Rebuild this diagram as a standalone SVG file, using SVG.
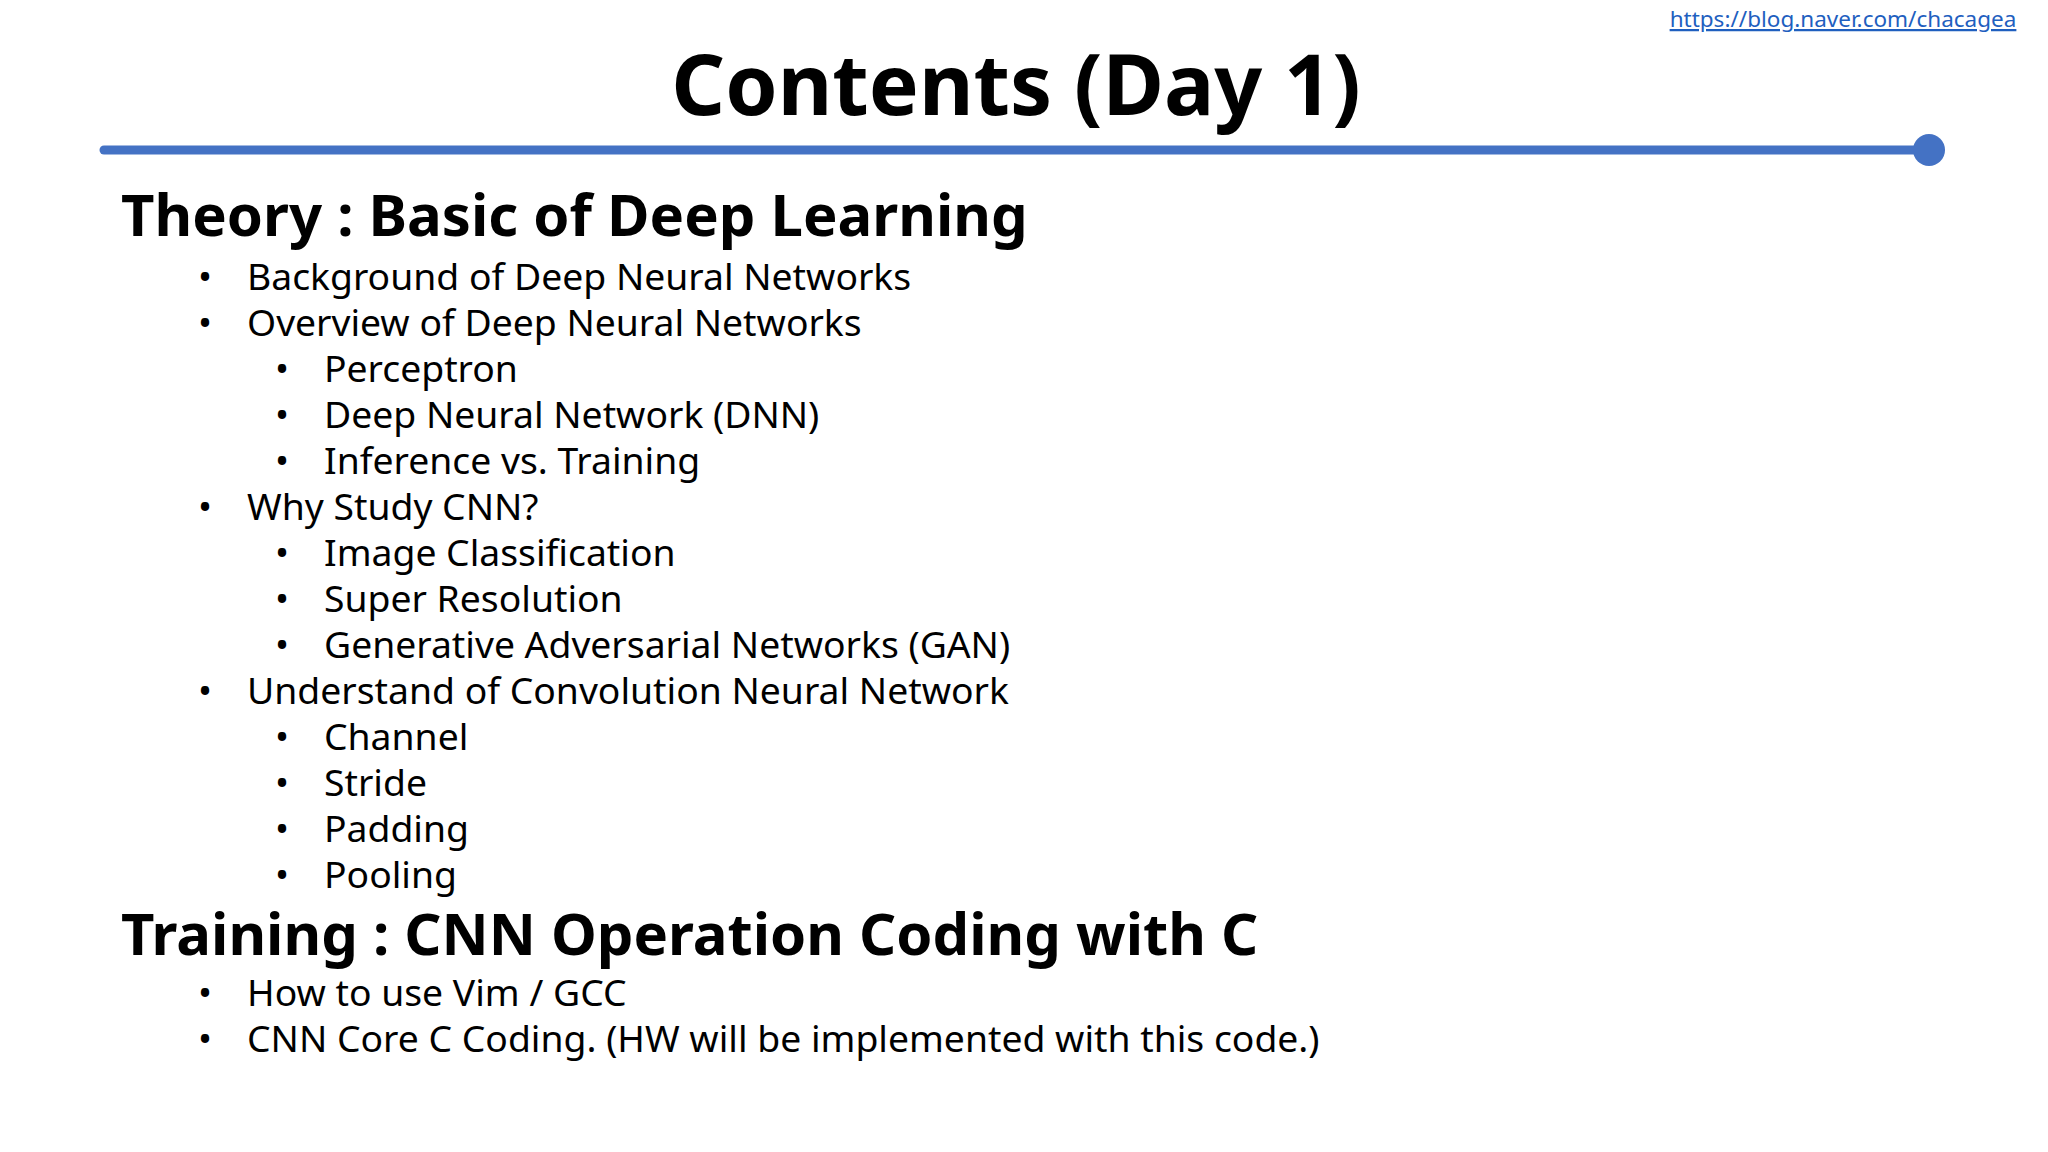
<svg xmlns="http://www.w3.org/2000/svg" width="2048" height="1152" viewBox="0 0 2048 1152">
<style>
.t{font-family:"Noto Sans","Liberation Sans",sans-serif;fill:#000}
.h{font-size:58px;font-weight:bold}
.b{font-size:37.3px}
</style>
<rect width="2048" height="1152" fill="#fff"/>
<text x="1843" y="27" text-anchor="middle" font-family="Noto Sans,sans-serif" font-size="22.5" fill="#1f5fbf" text-decoration="underline">https://blog.naver.com/chacagea</text>
<text class="t" x="1016" y="115" text-anchor="middle" font-size="84" font-weight="bold">Contents (Day 1)</text>
<line x1="104" y1="150" x2="1929" y2="150" stroke="#4472C4" stroke-width="9" stroke-linecap="round"/>
<circle cx="1929" cy="150" r="16" fill="#4472C4"/>
<text class="t h" x="121" y="236">Theory : Basic of Deep Learning</text>
<g class="t b">
<text x="198" y="290">•</text><text x="247" y="290">Background of Deep Neural Networks</text>
<text x="198" y="336">•</text><text x="247" y="336">Overview of Deep Neural Networks</text>
<text x="275" y="382">•</text><text x="324" y="382">Perceptron</text>
<text x="275" y="428">•</text><text x="324" y="428">Deep Neural Network (DNN)</text>
<text x="275" y="474">•</text><text x="324" y="474">Inference vs. Training</text>
<text x="198" y="520">•</text><text x="247" y="520">Why Study CNN?</text>
<text x="275" y="566">•</text><text x="324" y="566">Image Classification</text>
<text x="275" y="612">•</text><text x="324" y="612">Super Resolution</text>
<text x="275" y="658">•</text><text x="324" y="658">Generative Adversarial Networks (GAN)</text>
<text x="198" y="704">•</text><text x="247" y="704">Understand of Convolution Neural Network</text>
<text x="275" y="750">•</text><text x="324" y="750">Channel</text>
<text x="275" y="796">•</text><text x="324" y="796">Stride</text>
<text x="275" y="842">•</text><text x="324" y="842">Padding</text>
<text x="275" y="888">•</text><text x="324" y="888">Pooling</text>
</g>
<text class="t h" x="121" y="955">Training : CNN Operation Coding with C</text>
<g class="t b">
<text x="198" y="1006">•</text><text x="247" y="1006">How to use Vim / GCC</text>
<text x="198" y="1052">•</text><text x="247" y="1052">CNN Core C Coding. (HW will be implemented with this code.)</text>
</g>
</svg>
